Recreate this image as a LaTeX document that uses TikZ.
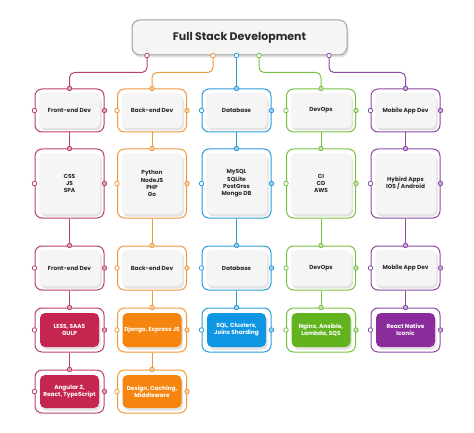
\documentclass[tikz,border=0pt]{standalone}
\usepackage{fontspec}
\setmainfont{Poppins}
\usetikzlibrary{shadows,calc}
\definecolor{cA}{HTML}{B8416B}
\definecolor{fA}{HTML}{C5264F}
\definecolor{cB}{HTML}{EE9A3A}
\definecolor{fB}{HTML}{F5850E}
\definecolor{cC}{HTML}{2A9CD9}
\definecolor{fC}{HTML}{0F96E3}
\definecolor{cD}{HTML}{78C140}
\definecolor{fD}{HTML}{62B41F}
\definecolor{cE}{HTML}{8C4AA6}
\definecolor{fE}{HTML}{8A2C9C}
\definecolor{ink}{HTML}{2B2B2B}
\definecolor{card}{HTML}{F5F5F5}
\tikzset{
  frame/.style={draw=#1, line width=1pt, rounded corners=7pt, minimum width=69pt, inner sep=0pt},
  card/.style={fill=card, rounded corners=5pt, minimum width=61pt, inner sep=1pt,
    drop shadow={shadow xshift=1.5pt, shadow yshift=-2.5pt, opacity=0.22},
    font=\bfseries\fontsize{5.8}{7.2}\selectfont, text=ink, align=center},
  solidbox/.style={fill=#1, rounded corners=5pt, minimum width=59pt, inner sep=1pt,
    drop shadow={shadow xshift=1.5pt, shadow yshift=-2.5pt, opacity=0.22},
    font=\bfseries\fontsize{5.8}{7.2}\selectfont, text=white, align=center},
  dotw/.style={circle, draw=#1, fill=white, line width=0.8pt, inner sep=0pt, minimum size=4.5pt},
  dotf/.style={circle, draw=#1, fill=#1!45, line width=0.8pt, inner sep=0pt, minimum size=4.5pt},
  link/.style={draw=#1, line width=1pt, rounded corners=5pt},
}
\newcommand\mkwbox[6]{%
  \node[frame=#2, minimum height=#5pt] (#1) at (#3,#4) {};
  \node[card, minimum height=#5pt-8pt] (#1c) at (#1) {#6};
}
\newcommand\mksbox[7]{%
  \node[frame=#2, minimum height=#5pt] (#1) at (#3,#4) {};
  \node[solidbox=#7, minimum height=#5pt-10pt] (#1c) at (#1) {#6};
}
\newcommand\mkdots[2]{%
  \node[dotf=#2] (#1n) at (#1.north) {};
  \node[dotw=#2] (#1w) at (#1.west) {};
  \node[dotf=#2] (#1e) at (#1.east) {};
}
\begin{document}
\begin{tikzpicture}[x=1pt,y=-1pt]
\useasboundingbox (0,0) rectangle (474,433);
% title
\node[draw=gray!75, line width=1pt, fill=card, rounded corners=8pt, minimum width=215pt, minimum height=35pt,
  drop shadow={shadow xshift=1.5pt, shadow yshift=-2.5pt, opacity=0.22},
  font=\bfseries\fontsize{11}{13}\selectfont, text=ink] (title) at (239.5,37.5) {Full Stack Development};
\coordinate (ta) at ($(title.south)+(-92.5,0)$);
\coordinate (tb) at ($(title.south)+(-26.5,0)$);
\coordinate (tc) at ($(title.south)+(-3,0)$);
\coordinate (td) at ($(title.south)+(19.5,0)$);
\coordinate (te) at ($(title.south)+(89.5,0)$);
% column A
\mkwbox{a1}{cA}{69.5}{110.5}{43}{Front-end Dev}
\mkwbox{a2}{cA}{69.5}{183.5}{69}{CSS\\JS\\SPA}
\mkwbox{a3}{cA}{69.5}{268}{44}{Front-end Dev}
\mksbox{a4}{cA}{69.5}{330}{44}{LESS, SAAS\\GULP}{fA}
\mksbox{a5}{cA}{69.5}{391.5}{43}{Angular 2,\\React, TypeScript}{fA}
% column B
\mkwbox{b1}{cB}{152}{110.5}{43}{Back-end Dev}
\mkwbox{b2}{cB}{152}{183.5}{69}{Python\\NodeJS\\PHP\\Go}
\mkwbox{b3}{cB}{152}{268}{44}{Back-end Dev}
\mksbox{b4}{cB}{152}{330}{44}{Django, Express JS}{fB}
\mksbox{b5}{cB}{152}{391.5}{43}{Design, Caching,\\Middleware}{fB}
% column C
\mkwbox{c1}{cC}{236.5}{110.5}{43}{Database}
\mkwbox{c2}{cC}{236.5}{183.5}{69}{MySQL\\SQLite\\PostGres\\Mongo DB}
\mkwbox{c3}{cC}{236.5}{268}{44}{Database}
\mksbox{c4}{cC}{236.5}{330}{44}{SQL, Clusters,\\Joins Sharding}{fC}
% column D
\mkwbox{d1}{cD}{321}{110.5}{43}{DevOps}
\mkwbox{d2}{cD}{321}{183.5}{69}{CI\\CD\\AWS}
\mkwbox{d3}{cD}{321}{268}{44}{DevOps}
\mksbox{d4}{cD}{321}{330}{44}{Nginx, Ansible,\\Lambda, SQS}{fD}
% column E
\mkwbox{e1}{cE}{405.5}{110.5}{43}{Mobile App Dev}
\mkwbox{e2}{cE}{405.5}{183.5}{69}{Hybird Apps\\IOS / Android}
\mkwbox{e3}{cE}{405.5}{268}{44}{Mobile App Dev}
\mksbox{e4}{cE}{405.5}{330}{44}{React Native\\Iconic}{fE}
% connectors from title
\draw[link=cA] (ta) -- ++(0,17) -| (a1.north);
\draw[link=cB] (tb) -- ++(0,17) -| (b1.north);
\draw[link=cC] (tc) -- (c1.north);
\draw[link=cD] (td) -- ++(0,17) -| (d1.north);
\draw[link=cE] (te) -- ++(0,17) -| (e1.north);
% vertical connectors
\foreach \c/\col in {a/cA,b/cB,c/cC,d/cD,e/cE}{
  \draw[link=\col] (\c1.south) -- (\c2.north);
  \draw[link=\col] (\c2.south) -- (\c3.north);
  \draw[link=\col] (\c3.south) -- (\c4.north);
}
\draw[link=cA] (a4.south) -- (a5.north);
\draw[link=cB] (b4.south) -- (b5.north);
% dots
\node[dotw=cA] (tad) at (ta) {};
\node[dotw=cB] (tbd) at (tb) {};
\node[dotw=cC] (tcd) at (tc) {};
\node[dotw=cD] (tdd) at (td) {};
\node[dotw=cE] (ted) at (te) {};
\foreach \c/\col in {a/cA,b/cB,c/cC,d/cD,e/cE}{
  \foreach \r in {1,2,3,4}{ \mkdots{\c\r}{\col} }
}
\mkdots{a5}{cA}
\mkdots{b5}{cB}
\end{tikzpicture}
\end{document}
